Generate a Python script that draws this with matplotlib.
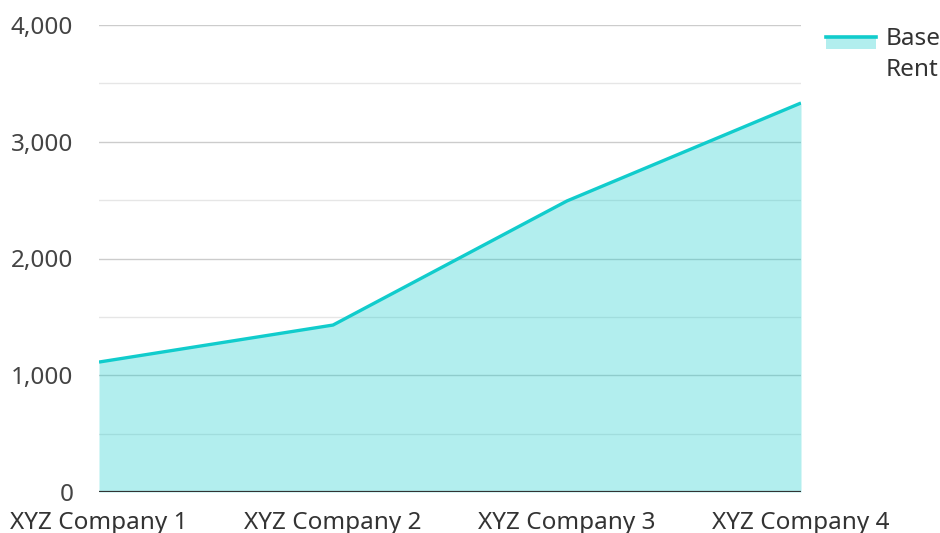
import matplotlib
matplotlib.use("Agg")
import matplotlib.pyplot as plt
from matplotlib.patches import Rectangle
from matplotlib.lines import Line2D

categories = ["XYZ Company 1", "XYZ Company 2", "XYZ Company 3", "XYZ Company 4"]
base_rent = [1113, 1430, 2493, 3332]
yticks = [0, 1000, 2000, 3000, 4000]
ytick_labels = ["0", "1,000", "2,000", "3,000", "4,000"]
minor_ticks = [500, 1500, 2500, 3500]

plt.rcParams['font.family'] = ['Noto Sans', 'DejaVu Sans']

W, H = 940, 533
fig = plt.figure(figsize=(W / 100, H / 100), dpi=100)
ax = fig.add_axes([99 / W, 1 - 492 / H, (801 - 99) / W, (492 - 25) / H])

line_color = "#11cccc"
x = list(range(len(categories)))
ax.fill_between(x, base_rent, 0, color=line_color, alpha=0.32, linewidth=0, zorder=2)
ax.plot(x, base_rent, color=line_color, linewidth=2.4, zorder=3, solid_capstyle='butt')

for v in yticks[1:]:
    ax.axhline(v, color="#cccccc", linewidth=1, zorder=1)
for v in minor_ticks:
    ax.axhline(v, color="#e6e6e6", linewidth=1, zorder=1)
ax.axhline(0, color="#333333", linewidth=1.6, zorder=4)

ax.set_xlim(0, 3)
ax.set_ylim(0, 4000)
ax.set_yticks(yticks)
ax.set_yticklabels(ytick_labels)
ax.set_xticks(x)
ax.set_xticklabels(categories)
ax.tick_params(axis='y', length=0, pad=18.5, labelsize=17.5, labelcolor="#444444")
ax.tick_params(axis='x', length=0, pad=13.5, labelsize=17.5, labelcolor="#333333")
for s in ax.spines.values():
    s.set_visible(False)

# legend (manual)
fig.patches.append(Rectangle((826 / W, 1 - 49 / H), 50 / W, 13 / H,
                             transform=fig.transFigure, facecolor=line_color,
                             alpha=0.32, edgecolor='none'))
fig.lines.append(Line2D([826 / W, 876 / W], [1 - 37 / H, 1 - 37 / H],
                        transform=fig.transFigure, color=line_color, linewidth=2.6))
fig.text(886 / W, 1 - 27 / H, "Base\nRent", fontsize=17.5, color="#333333",
         va='top', ha='left', linespacing=1.4)

fig.savefig("out.png", dpi=100)
